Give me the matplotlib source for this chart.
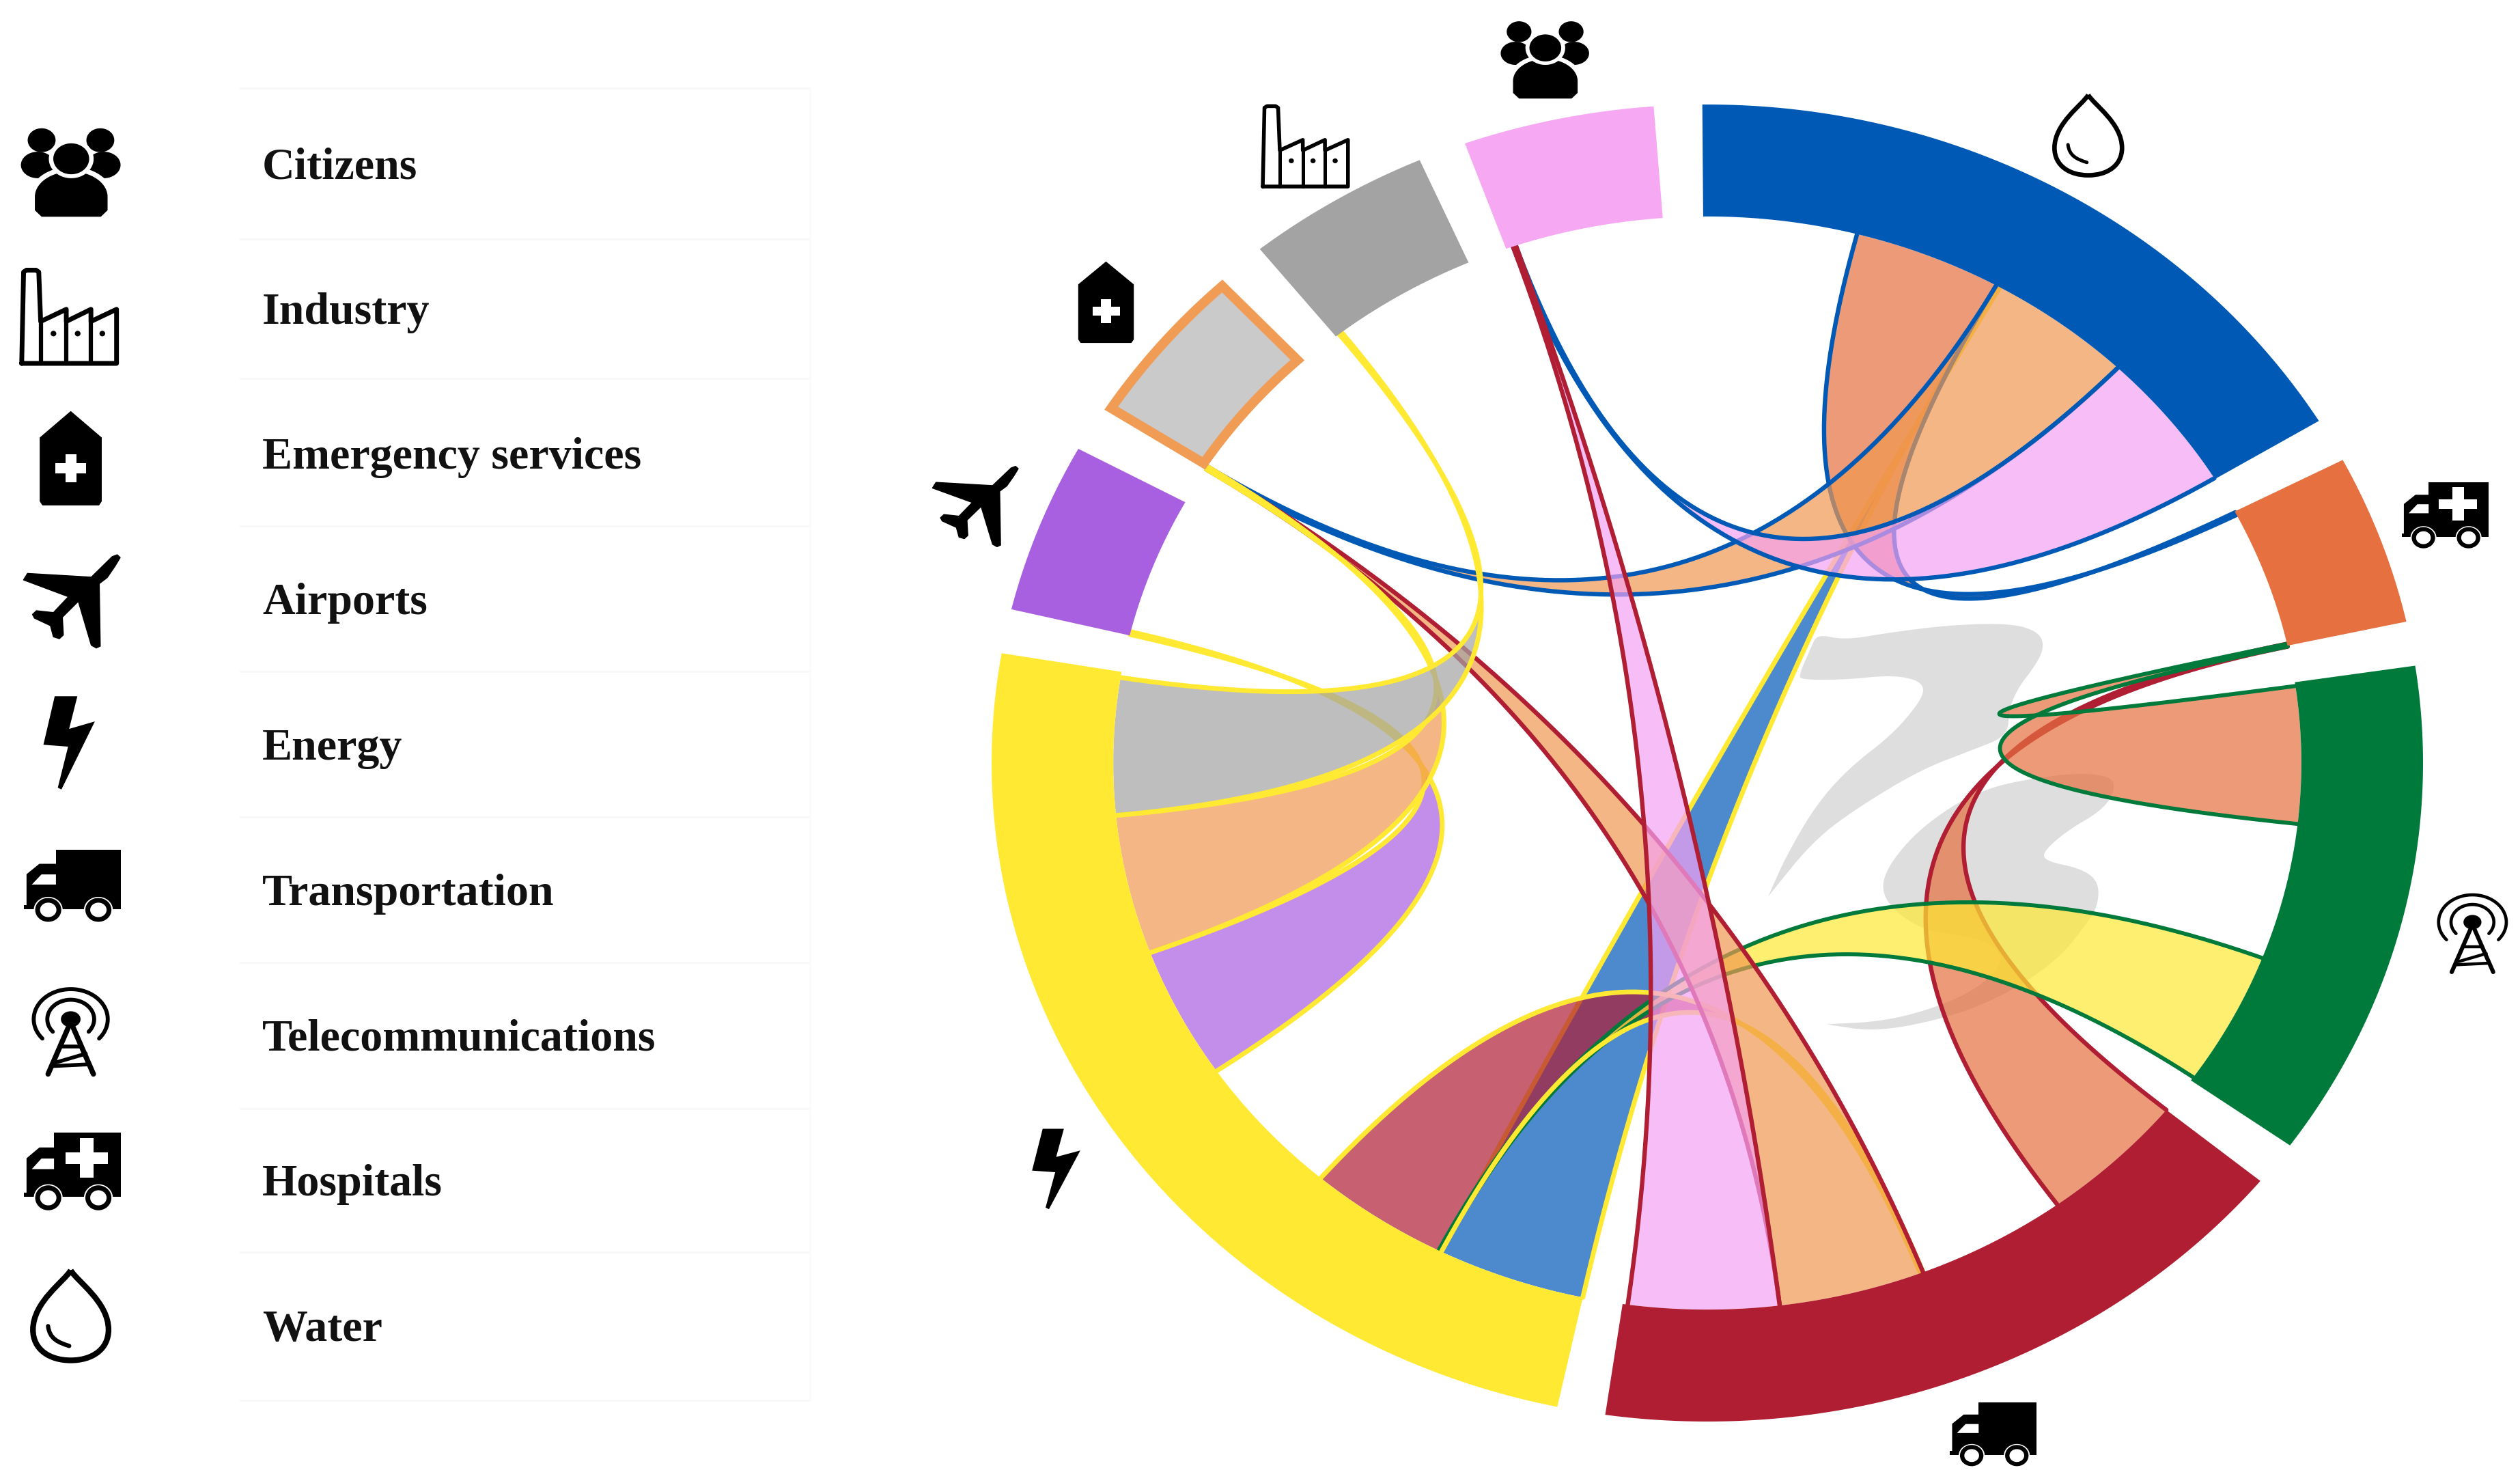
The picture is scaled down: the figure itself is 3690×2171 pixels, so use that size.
import numpy as np
import matplotlib
matplotlib.use("Agg")
import matplotlib.pyplot as plt
from matplotlib.path import Path
from matplotlib.patches import PathPatch, Polygon

W, H = 3691, 2171
# ---------- data ----------
labels = ["Citizens", "Industry", "Emergency services", "Airports", "Energy",
          "Transportation", "Telecommunications", "Hospitals", "Water"]
sectors = ["Water", "Hospitals", "Telecommunications", "Transportation", "Energy",
           "Airports", "Emergency services", "Industry", "Citizens"]
sector_sizes = [59.1, 15.0, 44.0, 58.8, 87.5, 15.0, 15.0, 15.0, 15.5]
sector_colors = ["#005AB5", "#E67040", "#007A3B", "#B01E33", "#FFE933",
                 "#A85FE0", "#CACACA", "#A3A3A3", "#F7A8F3"]
ribbon_colors = ["#0059B8", "#E67040", "#007A3B", "#B01C34", "#FFE933",
                 "#A85FE0", "#F09850", "#A3A3A3", "#F5A1F3"]
# flows: each source sector is filled clockwise; None is an unused slot
water_flows = [(None, 15.0, 0), ("Hospitals", 14.5, 0.1), ("Emergency services", 14.6, 0.1), ("Citizens", 14.9, 0.7)]
tele_flows = [(None, 0.4, 0), ("Hospitals", 14.5, 14.8), (None, 14.5, 0), ("Energy", 14.2, 14.5)]
transp_flows = [("Hospitals", 14.5, 14.8), (None, 14.8, 0), ("Emergency services", 14.3, 0.1), ("Citizens", 14.7, 0.7)]
energy_flows = [("Water", 14.5, 29.6), ("Transportation", 14.0, 29.3), (None, 15.1, 0),
                ("Airports", 14.0, 0.1), ("Emergency services", 14.8, 0.1), ("Industry", 14.5, 0.4)]
gap = 3.9
first_angle = -0.4
inner_r = 0.83

# ---------- figure ----------
fig = plt.figure(figsize=(W / 100, H / 100), dpi=100, facecolor="white")
pix = fig.add_axes([0, 0, 1, 1])
pix.set_xlim(0, W); pix.set_ylim(H, 0); pix.axis("off")
cx, cy, rx, ry = 2500, 1117, 1048, 964
ax = fig.add_axes([(cx - rx) / W, 1 - (cy + ry) / H, 2 * rx / W, 2 * ry / H])
ax.set_xlim(-1, 1); ax.set_ylim(-1, 1); ax.axis("off")
ax.patch.set_alpha(0)

# ---------- watermark (in the chord axes, under the ribbons) ----------
def chaikin(p, n=3):
    p = np.asarray(p, float)
    for _ in range(n):
        q = np.roll(p, -1, axis=0)
        p = np.column_stack([0.75 * p + 0.25 * q, 0.25 * p + 0.75 * q]).reshape(-1, 2)
    return p

smoke_a = [(360, 175), (450, 195), (600, 170), (800, 145), (1000, 140), (1090, 170), (1105, 220), (1075, 280),
           (1020, 350), (990, 420), (985, 510), (870, 555), (700, 620), (500, 740), (350, 850), (200, 1035), (200, 1035),
           (260, 900), (360, 730), (470, 610), (600, 510), (680, 420), (715, 360), (690, 325), (600, 310),
           (450, 325), (310, 325), (300, 310), (340, 220)]
smoke_b = [(1000, 660), (1200, 630), (1320, 640), (1340, 680), (1300, 750), (1180, 820), (1100, 890), (1110, 920),
           (1230, 945), (1285, 990), (1280, 1070), (1240, 1130), (1170, 1220), (1070, 1300), (950, 1370), (800, 1430),
           (560, 1480), (390, 1455), (390, 1455), (580, 1445), (750, 1400), (880, 1340), (960, 1270), (960, 1210), (880, 1170),
           (720, 1150), (620, 1090), (570, 1020), (590, 940), (680, 830), (800, 740), (900, 690)]
for s in (smoke_a, smoke_b):
    s = chaikin(s)
    px_ = 2500 + s[:, 0] / 2.24
    py_ = 850 + s[:, 1] / 2.24
    ax.add_patch(Polygon(np.column_stack([(px_ - cx) / rx, (cy - py_) / ry]), closed=True,
                         fc="#DEDEDE", ec="none", zorder=1))

# ---------- layout ----------
start = {}
a = first_angle
for n, s in zip(sectors, sector_sizes):
    start[n] = a
    a += s + gap
size = dict(zip(sectors, sector_sizes))
ribbon_col = dict(zip(sectors, ribbon_colors))

def P(theta, r=1.0):
    t = np.radians(theta)
    return np.column_stack([r * np.sin(t), r * np.cos(t)])

def arc(t0, t1, r, n=60):
    return P(np.linspace(t0, t1, n), r)

def chord(t0, t1, n=160):
    A, B = P(np.array([t0]), inner_r), P(np.array([t1]), inner_r)
    u = np.linspace(0, 1, n)[:, None]
    return (1 - u) ** 2 * A + u ** 2 * B

def ribbon(src, s0, s1, tgt, off, edge, lw, z, tip=0.3, lz=None):
    t0 = start[tgt] + off
    t1 = t0 + tip
    if t0 < s0:   # keep the ribbon untwisted: walk clockwise from source to target
        t0, t1 = t1, t0
    e1 = chord(s1, t0)
    e2 = chord(t1, s0)
    poly = np.vstack([arc(s0, s1, inner_r, 30), e1, arc(t0, t1, inner_r, 4), e2])
    ax.add_patch(Polygon(poly, closed=True, fc=ribbon_col[tgt], ec="none", alpha=0.7, zorder=z))
    for e in (e1, e2):
        ax.plot(e[:, 0], e[:, 1], color=edge, lw=lw, zorder=z if lz is None else lz, solid_capstyle="round")

def flows(src, table, edge, lw, z, lines=None):
    o = start[src]
    lines = lines or {}
    for tgt, w, off in table:
        if tgt is not None:
            zz = z[tgt] if isinstance(z, dict) else z
            ribbon(src, o, o + w, tgt, off, edge, lw, zz, lz=lines.get(tgt))
        o += w

flows("Energy", energy_flows, "#FFE933", 5.0,
      {"Water": 2, "Transportation": 2.1, "Airports": 6, "Emergency services": 6.1, "Industry": 6.2},
      lines={"Transportation": 4.5})
flows("Transportation", transp_flows, "#B01E33", 4.6,
      {"Hospitals": 3, "Emergency services": 5, "Citizens": 5.1})
flows("Water", water_flows, "#005AB5", 4.6,
      {"Hospitals": 3.1, "Emergency services": 3.2, "Citizens": 3.3})
flows("Telecommunications", tele_flows, "#007A3B", 4.2, 4)

# sector rings
for n, c in zip(sectors, sector_colors):
    t0, t1 = start[n], start[n] + size[n]
    if n == "Emergency services":
        d = 0.5
        poly = np.vstack([arc(t0 + d, t1 - d, 0.992), arc(t1 - d, t0 + d, 0.838)])
        ax.add_patch(Polygon(poly, closed=True, fc=c, ec="#F19C55", lw=10, joinstyle="miter", zorder=8))
    else:
        poly = np.vstack([arc(t0, t1, 1.0, 120), arc(t1, t0, inner_r, 120)])
        ax.add_patch(Polygon(poly, closed=True, fc=c, ec="none", zorder=8))

# ---------- icons ----------
def ell(c, rxx, ryy, a0=0, a1=360, n=60):
    t = np.radians(np.linspace(a0, a1, n))
    return np.column_stack([c[0] + rxx * np.cos(t), c[1] + ryy * np.sin(t)])

def icon(name, xc, yc, w, h, k=1.0):
    x0, y0 = xc - w / 2, yc - h / 2
    def m(p):
        p = np.asarray(p, float)
        return np.column_stack([x0 + p[:, 0] * w, y0 + p[:, 1] * h])
    def fill(p, c="black", lw=0.0):
        pix.add_patch(Polygon(m(p), closed=True, fc=c, ec=c, lw=lw, joinstyle="round", zorder=10))
    def line(p, lw=4.0, c="black"):
        q = m(p)
        pix.plot(q[:, 0], q[:, 1], color=c, lw=lw * k, solid_capstyle="round", solid_joinstyle="round", zorder=11)
    def rect(a, b, c, d, col="black"):
        fill([(a, b), (c, b), (c, d), (a, d)], col)
    def truck_base(body_left, base):
        rect(body_left, 0, 1, base)
        fill([(.03, base), (.03, .34), (.16, .2), (body_left + .01, .2), (body_left + .01, base)], lw=1)
        rect(0, base - .04, 1, base + .02)
        fill([(.08, .48), (.18, .34), (body_left, .34), (body_left, .48)], "white")
        for xw in (.25, .77):
            fill(ell((xw, base + .03), .15, .18), "white")
            fill(ell((xw, base + .03), .135, .165), "black")
            fill(ell((xw, base + .03), .085, .1), "white")

    if name == "Citizens":
        for sx in (.208, .797):
            fill(ell((sx, .14), .14, .135))
        for sx in (.17, .83):
            fill(ell((sx, .42), .17, .15))
        fill(ell((.505, .78), .42, .34, 180, 360), "white")
        body = np.vstack([ell((.505, .78), .36, .28, 180, 360), [(.865, .93), (.80, 1), (.21, 1), (.145, .93)]])
        fill(body, lw=1)
        fill(ell((.505, .35), .225, .22), "white")
        fill(ell((.505, .35), .18, .175))
    elif name == "Industry":
        line([(0, 1), (.02, .02), (.05, 0), (.15, 0), (.18, .02), (.2, .55), (.47, .42), (.47, .55), (.73, .42),
              (.73, .55), (1, .42), (1, 1), (0, 1)], 5)
        for vx in (.2, .47, .73):
            line([(vx, .55), (vx, 1)], 4.5)
        for dx in (.335, .59, .85):
            fill(ell((dx, .68), .03, .03))
    elif name == "Emergency services":
        fill([(.5, 0), (1, .28), (1, .96), (.96, 1), (.04, 1), (0, .96), (0, .28)], lw=1)
        rect(.25, .555, .75, .665, "white")
        rect(.41, .46, .59, .76, "white")
    elif name == "Airports":
        fill([(.98, .03), (.93, .12), (.85, .245), (.77, .31), (.78, .98), (.74, 1), (.69, .97), (.56, .5), (.40, .67),
              (.41, .86), (.37, .90), (.31, .88), (.28, .76), (.12, .68), (.10, .64), (.14, .60), (.31, .62), (.46, .45),
              (.01, .27), (.05, .2), (.69, .24), (.90, .02), (.95, .0)], lw=1)
    elif name == "Energy":
        fill([(.22, 0), (.66, 0), (.5, .35), (1, .27), (.35, 1), (.28, .98), (.48, .54), (0, .52)])
    elif name == "Transportation":
        truck_base(.33, .8)
    elif name == "Telecommunications":
        line(ell((.5, .37), .49, .34, 140, 400), 4.2)
        line(ell((.5, .37), .31, .22, 140, 400), 4.2)
        fill(ell((.5, .37), .13, .09))
        line([(.5, .4), (.2, .99)], 5.5)
        line([(.5, .4), (.8, .99)], 5.5)
        line([(.37, .68), (.63, .68)], 4)
        line([(.3, .86), (.7, .76)], 4)
        line([(.26, .9), (.74, .88)], 4)
    elif name == "Hospitals":
        truck_base(.31, .83)
        rect(.43, .26, .87, .41, "white")
        rect(.58, .07, .72, .59, "white")
    elif name == "Water":
        v = np.array([(.5, 0), (.42, .12), (0, .35), (0, .66), (0, .88), (.22, 1), (.5, 1), (.78, 1), (1, .88), (1, .66),
                      (1, .35), (.58, .12), (.5, 0)])
        codes = [Path.MOVETO] + [Path.CURVE4] * 12
        pix.add_patch(PathPatch(Path(m(v), codes), fc="none", ec="black", lw=6 * k, joinstyle="miter", zorder=11))
        v2 = np.array([(.2, .62), (.22, .76), (.33, .8), (.48, .84)])
        pix.add_patch(PathPatch(Path(m(v2), [Path.MOVETO] + [Path.CURVE4] * 3), fc="none", ec="black", lw=4.5 * k,
                                capstyle="round", zorder=11))

S = 3691 / 1568
legend_boxes = {
    "Citizens": (44, 107, 62, 55), "Industry": (43, 197, 59, 58), "Emergency services": (44, 285, 38, 58),
    "Airports": (45, 374, 62, 58), "Energy": (43, 462, 32, 58), "Transportation": (45, 551, 60, 45),
    "Telecommunications": (44, 641, 47, 55), "Hospitals": (45, 728, 60, 47), "Water": (44, 818, 47, 56)}
chart_boxes = {
    "Citizens": (961, 37, 55, 48), "Industry": (812, 91, 53, 50), "Emergency services": (688, 188, 34, 50),
    "Airports": (607, 315, 55, 50), "Energy": (657, 727, 30, 50), "Transportation": (1240, 892, 54, 40),
    "Telecommunications": (1538, 580, 43, 50), "Hospitals": (1521, 320, 54, 40), "Water": (1299, 84, 42, 50)}
for n, b in legend_boxes.items():
    icon(n, *[v * S for v in b])
for n, b in chart_boxes.items():
    icon(n, *[v * S for v in b], k=0.8)

# ---------- legend ----------
for yy in [129, 350, 554, 770, 983, 1196, 1409, 1623, 1833, 2050]:
    pix.plot([352, 1186], [yy, yy], color="#F8F8F8", lw=2, zorder=0)
pix.plot([1186, 1186], [129, 2050], color="#FBFBFB", lw=2, zorder=0)
for i, t in enumerate(labels):
    pix.text(384, 261 + 212.75 * i, t, fontsize=47.5, family="Liberation Serif", fontweight="bold",
             color="#111111", ha="left", va="baseline", zorder=12)

fig.savefig("out.png", dpi=100, facecolor="white")
